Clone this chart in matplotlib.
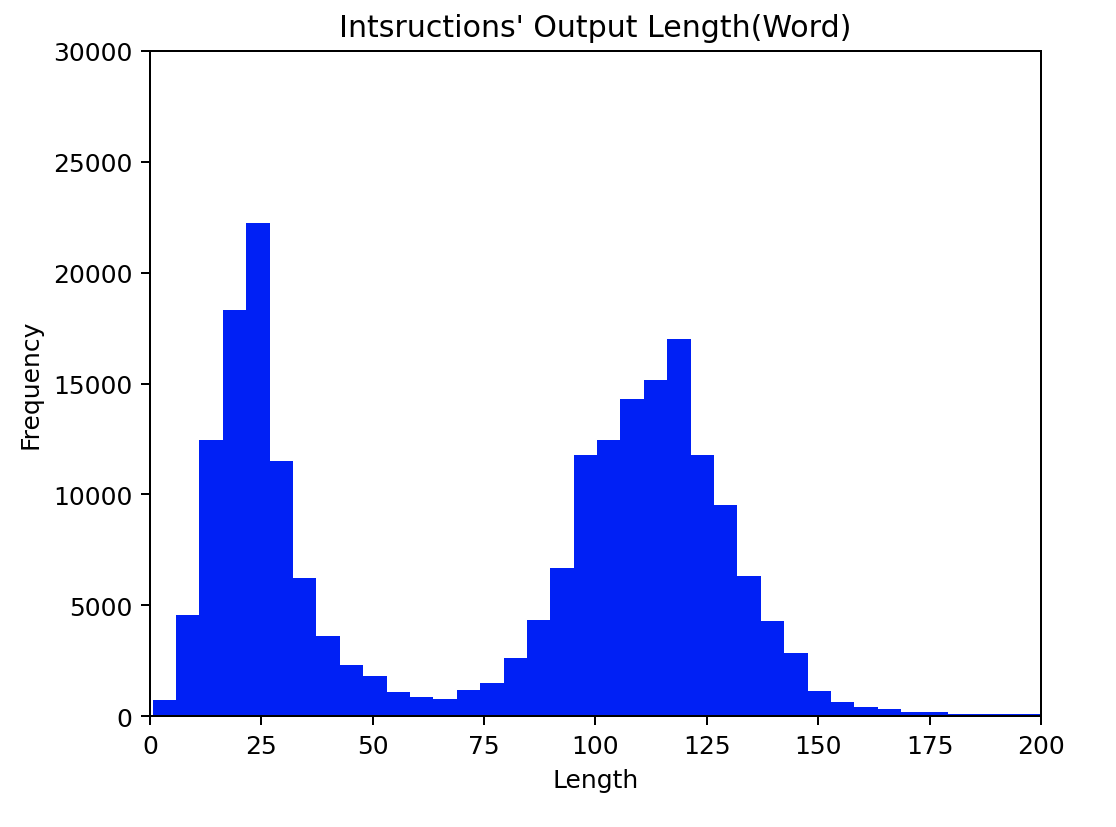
import numpy as np
import matplotlib
matplotlib.use("Agg")
import matplotlib.pyplot as plt

# word-length bins: 40 bins of 5.25 words
bin_edges = np.linspace(0.6, 210.6, 41)

counts = [740, 4540, 12470, 18300, 22240, 11500, 6240, 3590, 2300, 1810,
          1080, 850, 760, 1160, 1480, 2630, 4340, 6660, 11760, 12430,
          14320, 15150, 16990, 11780, 9520, 6330, 4290, 2840, 1140, 650,
          400, 320, 180, 170, 90, 90, 90, 80, 60, 40]

plt.figure(figsize=(6.2, 4.6), dpi=180)
plt.subplots_adjust(left=0.1344, right=0.9328, top=0.9372, bottom=0.134)
plt.hist(bin_edges[:-1], bins=bin_edges, weights=counts, color="#0020F5")
plt.xlim(0, 200)
plt.ylim(0, 30000)
plt.xlabel("Length")
plt.ylabel("Frequency")
plt.title("Intsructions' Output Length(Word)")
plt.savefig("out.png", dpi=180)
